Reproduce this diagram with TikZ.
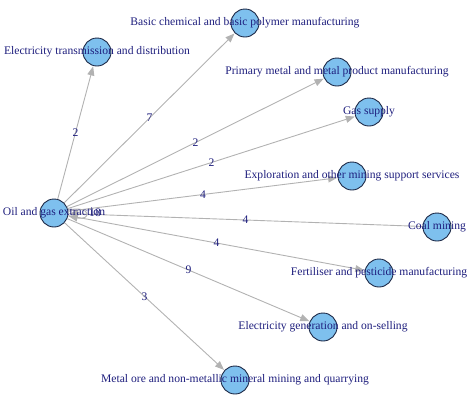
\documentclass[tikz,border=0pt]{standalone}
\usepackage{fontspec}
\setmainfont{Liberation Serif}
\usetikzlibrary{arrows.meta}
\definecolor{vfill}{RGB}{126,192,238}
\definecolor{vline}{RGB}{28,40,70}
\definecolor{ltext}{RGB}{30,30,125}
\definecolor{egray}{RGB}{178,178,178}
\tikzset{
  vtx/.style={circle,draw=vline,fill=vfill,line width=0.9pt,minimum size=28pt,inner sep=0pt},
  vlab/.style={text=ltext,font=\fontsize{11.6}{13}\selectfont,inner sep=0pt},
  edge/.style={egray,line width=0.9pt,-{Triangle[length=9pt,width=7pt]},shorten >=0.5pt},
  elab/.style={text=ltext,font=\fontsize{11.6}{13}\selectfont,inner sep=1pt}
}

\begin{document}
\begin{tikzpicture}[x=1pt,y=-1pt]
  \useasboundingbox (0,0) rectangle (474,405);

  % Vertices
  \node[vtx] (oil)   at (54,213)  {};
  \node[vtx] (trans) at (97,52)   {};
  \node[vtx] (chem)  at (245,23)  {};
  \node[vtx] (metal) at (337,72)  {};
  \node[vtx] (gas)   at (369,112) {};
  \node[vtx] (expl)  at (352,176) {};
  \node[vtx] (coal)  at (437,227) {};
  \node[vtx] (fert)  at (379,273) {};
  \node[vtx] (gen)   at (323,327) {};
  \node[vtx] (ore)   at (235,380) {};

  % Edges out of oil and gas extraction
  \draw[edge] (oil) -- (trans) node[midway,elab] {2};
  \draw[edge] (oil) -- (chem)  node[midway,elab] {7};
  \draw[edge] (oil) -- (metal) node[midway,elab] {2};
  \draw[edge] (oil) -- (gas)   node[midway,elab] {2};
  \draw[edge] (oil) -- (expl)  node[midway,elab] {4};
  \draw[edge] (oil) -- (fert)  node[midway,elab] {4};
  \draw[edge] (oil) -- (gen)   node[midway,elab] {9};
  \draw[edge] (oil) -- (ore)   node[midway,elab] {3};

  % Edge into oil and gas extraction
  \draw[edge] (coal) -- (oil) node[midway,elab] {4};

  % Self loop
  \draw[edge] (oil) to[out=12,in=-12,min distance=24pt] (oil);
  \node[elab] (loop) at (95,213) {18};

  % Vertex labels (drawn over the circles)
  \node[vlab] (oiltxt)   at (oil)   {Oil and gas extraction};
  \node[vlab] (transtxt) at (trans) {Electricity transmission and distribution};
  \node[vlab] (chemtxt)  at (chem)  {Basic chemical and basic polymer manufacturing};
  \node[vlab] (metaltxt) at (metal) {Primary metal and metal product manufacturing};
  \node[vlab] (gastxt)   at (gas)   {Gas supply};
  \node[vlab] (expltxt)  at (expl)  {Exploration and other mining support services};
  \node[vlab] (coaltxt)  at (coal)  {Coal mining};
  \node[vlab] (ferttxt)  at (fert)  {Fertiliser and pesticide manufacturing};
  \node[vlab] (gentxt)   at (gen)   {Electricity generation and on-selling};
  \node[vlab] (oretxt)   at (ore)   {Metal ore and non-metallic mineral mining and quarrying};

\end{tikzpicture}
\end{document}
